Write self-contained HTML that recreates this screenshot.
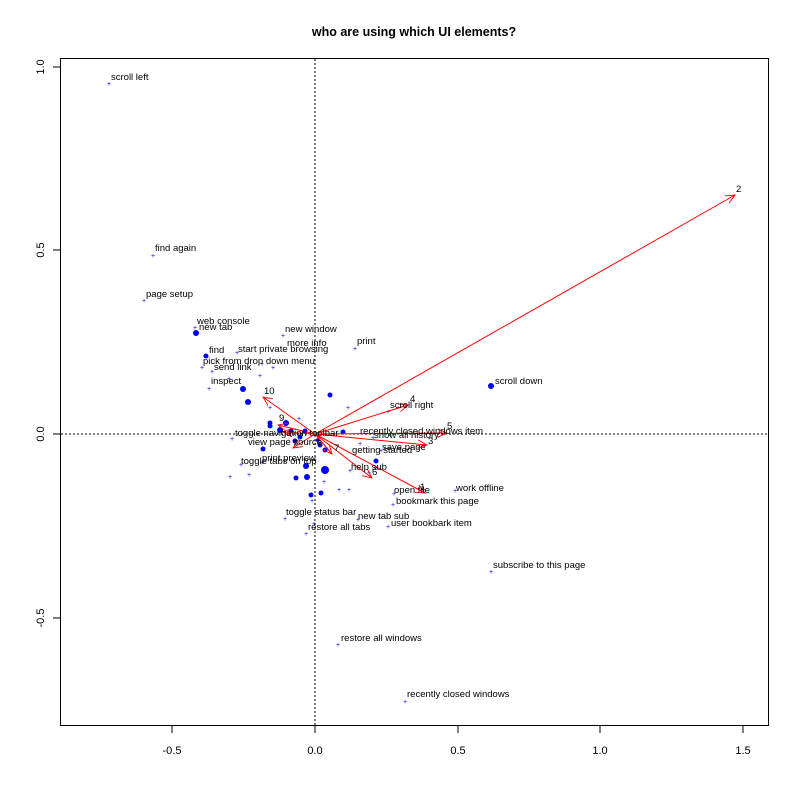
<!DOCTYPE html>
<html><head><meta charset="utf-8"><style>
html,body{margin:0;padding:0;background:#fff}
svg{display:block}
text{font-family:"Liberation Sans",sans-serif}
</style></head><body>
<svg width="800" height="800" viewBox="0 0 800 800" xmlns="http://www.w3.org/2000/svg">
<defs>
<marker id="ah" viewBox="0 0 12 12" refX="11" refY="6" markerWidth="11" markerHeight="11" markerUnits="userSpaceOnUse" orient="auto">
<path d="M1,1.5 L11,6 L1,10.5" fill="none" stroke="#f00" stroke-width="1"/>
</marker>
</defs>
<rect width="800" height="800" fill="#fff"/>
<text x="414" y="36" text-anchor="middle" font-size="12.5" font-weight="bold">who are using which UI elements?</text>
<rect x="60.5" y="58.5" width="708" height="667" fill="none" stroke="#000"/>
<g stroke="#000">
<line x1="172" y1="726" x2="172" y2="733"/><line x1="315" y1="726" x2="315" y2="733"/><line x1="458" y1="726" x2="458" y2="733"/><line x1="600" y1="726" x2="600" y2="733"/><line x1="743" y1="726" x2="743" y2="733"/>
<line x1="53" y1="67" x2="60" y2="67"/><line x1="53" y1="250" x2="60" y2="250"/><line x1="53" y1="434" x2="60" y2="434"/><line x1="53" y1="618" x2="60" y2="618"/>
</g>
<g font-size="11" text-anchor="middle">
<text x="172" y="754">-0.5</text><text x="315" y="754">0.0</text><text x="458" y="754">0.5</text><text x="600" y="754">1.0</text><text x="743" y="754">1.5</text>
<text transform="translate(44,67) rotate(-90)">1.0</text>
<text transform="translate(44,250) rotate(-90)">0.5</text>
<text transform="translate(44,434) rotate(-90)">0.0</text>
<text transform="translate(44,618) rotate(-90)">-0.5</text>
</g>
<g stroke="#000" stroke-dasharray="2,2">
<line x1="315" y1="59" x2="315" y2="726"/><line x1="61" y1="434" x2="768" y2="434"/>
</g>
<g fill="#00f">
<circle cx="196" cy="333" r="3"/><circle cx="206" cy="356" r="2.5"/><circle cx="243" cy="389" r="3"/><circle cx="248" cy="402" r="3"/>
<circle cx="330" cy="395" r="2.5"/><circle cx="491" cy="386" r="3"/><circle cx="286" cy="423" r="3"/><circle cx="270" cy="423" r="2.5"/>
<circle cx="270" cy="426" r="2.5"/><circle cx="280" cy="430" r="3"/><circle cx="291" cy="431" r="2.5"/><circle cx="295" cy="441" r="2.5"/>
<circle cx="300" cy="437" r="2.5"/><circle cx="305" cy="431" r="2.5"/><circle cx="320" cy="445" r="2.5"/><circle cx="325" cy="450" r="2.5"/>
<circle cx="306" cy="466" r="3"/><circle cx="307" cy="477" r="3"/><circle cx="325" cy="470" r="4"/><circle cx="311" cy="495" r="2.5"/>
<circle cx="376" cy="461" r="2.5"/><circle cx="343" cy="432" r="2.5"/><circle cx="263" cy="449" r="2.5"/><circle cx="296" cy="478" r="2.5"/>
<circle cx="321" cy="493" r="2.5"/><circle cx="318" cy="440" r="2"/>
</g>
<g fill="#00f" font-size="7" text-anchor="middle">
<text x="109" y="86">+</text><text x="153" y="258">+</text><text x="144" y="303">+</text><text x="195" y="330">+</text><text x="283" y="338">+</text>
<text x="355" y="351">+</text><text x="237" y="355">+</text><text x="202" y="370">+</text><text x="212" y="374">+</text><text x="209" y="391">+</text>
<text x="262" y="366">+</text><text x="273" y="370">+</text><text x="229" y="381">+</text><text x="260" y="378">+</text>
<text x="388" y="414">+</text><text x="348" y="410">+</text><text x="270" y="410">+</text><text x="299" y="421">+</text><text x="232" y="441">+</text>
<text x="373" y="440">+</text><text x="262" y="465">+</text><text x="241" y="467">+</text><text x="249" y="477">+</text><text x="230" y="479">+</text>
<text x="350" y="473">+</text><text x="360" y="446">+</text><text x="381" y="453">+</text><text x="394" y="496">+</text><text x="455" y="493">+</text>
<text x="393" y="507">+</text><text x="285" y="521">+</text><text x="358" y="522">+</text><text x="388" y="529">+</text><text x="306" y="536">+</text>
<text x="339" y="492">+</text><text x="349" y="492">+</text><text x="369" y="475">+</text><text x="376" y="470">+</text><text x="312" y="503">+</text>
<text x="314" y="526">+</text><text x="491" y="574">+</text><text x="338" y="647">+</text><text x="405" y="704">+</text><text x="324" y="484">+</text>
</g>
<g stroke="#f00" stroke-width="1" marker-end="url(#ah)">
<line x1="315" y1="434" x2="735" y2="195"/>
<line x1="315" y1="434" x2="263" y2="397"/>
<line x1="315" y1="434" x2="278" y2="425"/>
<line x1="315" y1="434" x2="283" y2="432"/>
<line x1="315" y1="434" x2="408" y2="405"/>
<line x1="315" y1="434" x2="447" y2="433"/>
<line x1="315" y1="434" x2="427" y2="445"/>
<line x1="315" y1="434" x2="332" y2="454"/>
<line x1="315" y1="434" x2="372" y2="478"/>
<line x1="315" y1="434" x2="425" y2="493"/>
<line x1="315" y1="434" x2="293" y2="448"/>
</g>
<g font-size="9.5" fill="#000">
<text x="736" y="192">2</text><text x="264" y="394">10</text><text x="279" y="421">9</text><text x="410" y="402">4</text>
<text x="447" y="429">5</text><text x="428" y="444">3</text><text x="334" y="451">7</text><text x="372" y="475">6</text><text x="420" y="490">1</text>
<text x="111" y="80">scroll left</text>
<text x="155" y="251">find again</text>
<text x="146" y="297">page setup</text>
<text x="197" y="324">web console</text>
<text x="199" y="330">new tab</text>
<text x="285" y="332">new window</text>
<text x="287" y="346">more info</text>
<text x="357" y="344">print</text>
<text x="238" y="352">start private browsing</text>
<text x="209" y="353">find</text>
<text x="203" y="364">pick from drop down menu</text>
<text x="214" y="370">send link</text>
<text x="211" y="384">inspect</text>
<text x="495" y="384">scroll down</text>
<text x="390" y="408">scroll right</text>
<text x="360" y="434">recently closed windows item</text>
<text x="374" y="438">show all history</text>
<text x="235" y="436">toggle navigation toolbar</text>
<text x="248" y="445">view page source</text>
<text x="352" y="453">getting started</text>
<text x="382" y="450">save page</text>
<text x="262" y="461">print preview</text>
<text x="241" y="464">toggle tabs on top</text>
<text x="351" y="470">help sub</text>
<text x="394" y="493">open file</text>
<text x="456" y="491">work offline</text>
<text x="396" y="504">bookmark this page</text>
<text x="286" y="515">toggle status bar</text>
<text x="358" y="519">new tab sub</text>
<text x="391" y="526">user bookbark item</text>
<text x="308" y="530">restore all tabs</text>
<text x="493" y="568">subscribe to this page</text>
<text x="341" y="641">restore all windows</text>
<text x="407" y="697">recently closed windows</text>
</g>
</svg>
</body></html>
